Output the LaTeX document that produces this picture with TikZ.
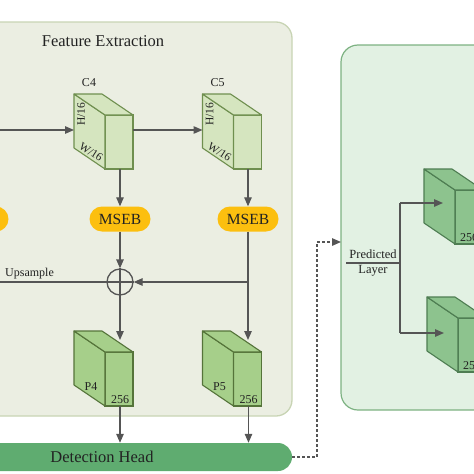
\documentclass[tikz,border=0pt]{standalone}
\usepackage{fontspec}
\setmainfont{Liberation Serif}
\usetikzlibrary{arrows.meta,calc}
\definecolor{lpfill}{HTML}{EBEEE2}
\definecolor{lpdraw}{HTML}{C8D4B4}
\definecolor{rpfill}{HTML}{E2F1E3}
\definecolor{rpdraw}{HTML}{7DB282}
\definecolor{cfill}{HTML}{D5E5BF}
\definecolor{cdraw}{HTML}{6F8F4F}
\definecolor{pfill}{HTML}{A6CF8A}
\definecolor{pdraw}{HTML}{55743A}
\definecolor{rfill}{HTML}{8DC38E}
\definecolor{rdraw}{HTML}{4E7D52}
\definecolor{msebfill}{HTML}{FCBF0F}
\definecolor{headfill}{HTML}{5FAC70}
\definecolor{arr}{HTML}{555555}
\definecolor{txt}{HTML}{222222}
\newcommand\mycube[4]{%
  \node[draw=#4, fill=#3, line width=1.1pt, minimum width=28pt, minimum height=54pt, inner sep=0pt, outer sep=0pt] (#1) at #2 {};
  \draw[draw=#4, fill=#3, line width=1.1pt, line join=round] (#1.north west) -- ++(-31,-21) -- ++(0,54) -- (#1.south west) -- cycle;
  \draw[draw=#4, fill=#3, line width=1.1pt, line join=round] (#1.north west) -- ++(-31,-21) -- ++(28,0) -- (#1.north east) -- cycle;
}
\begin{document}
\begin{tikzpicture}[x=1pt,y=-1pt,
  big/.style={font=\fontsize{16.5}{18}\selectfont, text=txt, inner sep=0pt},
  small/.style={font=\fontsize{12}{13}\selectfont, text=txt, inner sep=0pt},
  mseb/.style={fill=msebfill, rounded corners=12.5pt, minimum width=61pt, minimum height=25pt, inner sep=0pt, font=\fontsize{15.5}{17}\selectfont, text=txt},
  flow/.style={draw=arr, line width=1.3pt, -{Triangle[length=9pt,width=7.5pt]}},
  plain/.style={draw=arr, line width=1.3pt},
  dashflow/.style={draw=arr, line width=1.3pt, dash pattern=on 3pt off 2pt, -{Triangle[length=9pt,width=7.5pt]}}
]
\useasboundingbox (0,0) rectangle (474,474);
\clip (0,0) rectangle (474,474);
% panels
\draw[fill=lpfill, draw=lpdraw, line width=1.3pt, rounded corners=16pt] (-40,22) rectangle (292,416);
\draw[fill=rpfill, draw=rpdraw, line width=1.2pt, rounded corners=17pt] (341,45) rectangle (530,410);
\node[big] (title) at (103,41) {Feature Extraction};
% cubes
\mycube{c4}{(119,142)}{cfill}{cdraw}
\mycube{c5}{(247.5,142)}{cfill}{cdraw}
\mycube{p4}{(119,379)}{pfill}{pdraw}
\mycube{p5}{(247.5,379)}{pfill}{pdraw}
\mycube{r1}{(469,217)}{rfill}{rdraw}
\mycube{r2}{(472,345)}{rfill}{rdraw}
% cube labels
\node[small] (c4lab) at (89,83) {C4};
\node[small] (c5lab) at (217.5,83) {C5};
\node[small, rotate=90, font=\fontsize{11.5}{13}\selectfont] (c4h) at (81,114) {H/16};
\node[small, rotate=-33, font=\fontsize{11.5}{13}\selectfont] (c4w) at (91,152) {W/16};
\node[small, rotate=90, font=\fontsize{11.5}{13}\selectfont] (c5h) at (209.5,114) {H/16};
\node[small, rotate=-33, font=\fontsize{11.5}{13}\selectfont] (c5w) at (219.5,152) {W/16};
\node[small] (p4lab) at (91,387) {P4};
\node[small] (p5lab) at (219.5,387) {P5};
\node[small] (p4n) at (120,400) {256};
\node[small] (p5n) at (248.5,400) {256};
\node[small] (r1n) at (469,238) {256};
\node[small] (r2n) at (472,366) {256};
% MSEB
\node[mseb] (m0) at (-22,219) {};
\node[mseb] (m4) at (120,219) {MSEB};
\node[mseb] (m5) at (248,219) {MSEB};
% sum
\node[circle, draw=arr, line width=1.3pt, minimum size=26pt, inner sep=0pt] (sum) at (120,282) {};
\draw[plain] (sum.north) -- (sum.south);
\draw[plain] (sum.west) -- (sum.east);
% detection head
\node[fill=headfill, rounded corners=14pt, minimum width=332pt, minimum height=28pt, inner sep=0pt] (head) at (126,457) {};
\node[big] (headtxt) at (102,457) {Detection Head};
% coordinates
\coordinate (inL) at (-5,130);
\coordinate (c4in) at (74,130);
\coordinate (c4out) at (133,130);
\coordinate (c5in) at (202.5,130);
\coordinate (p4top) at (120,340);
\coordinate (p5top) at (248,340);
\coordinate (split) at (248,282);
\coordinate (upL) at (-5,282);
\coordinate (d1) at (317,457);
\coordinate (d2) at (317,242);
\coordinate (rpin) at (341,242);
% arrows
\draw[flow] (inL) -- (c4in);
\draw[flow] (c4out) -- (c5in);
\draw[flow] (c4.south -| m4) -- (m4.north);
\draw[flow] (c5.south -| m5) -- (m5.north);
\draw[flow] (m4.south) -- (sum.north);
\draw[flow] (sum.south) -- (p4top);
\draw[flow] (m5.south) -- (p5top);
\draw[flow] (split) -- (sum.east);
\draw[plain] (sum.west) -- (upL);
\node[small, anchor=base west] (ups) at (5,276) {Upsample};
\draw[flow] (p4.south -| p4n) -- (p4n |- head.north);
\draw[flow] (p5.south -| p5n) -- (p5n |- head.north);
\draw[dashflow] (head.east) -- (d1) -- (d2) -- (rpin);
% predicted layer
\node[small, align=center, font=\fontsize{12.5}{15}\selectfont] (pred) at (373,263.5) {Predicted\\Layer};
\coordinate (b0) at (346,263);
\coordinate (b1) at (400,263);
\coordinate (bt) at (400,203);
\coordinate (bb) at (400,333);
\coordinate (r1in) at (443,203);
\coordinate (r2in) at (444,333);
\draw[plain] (b0) -- (b1);
\draw[plain] (bt) -- (bb);
\draw[flow] (bt) -- (r1in);
\draw[flow] (bb) -- (r2in);
\end{tikzpicture}
\end{document}
